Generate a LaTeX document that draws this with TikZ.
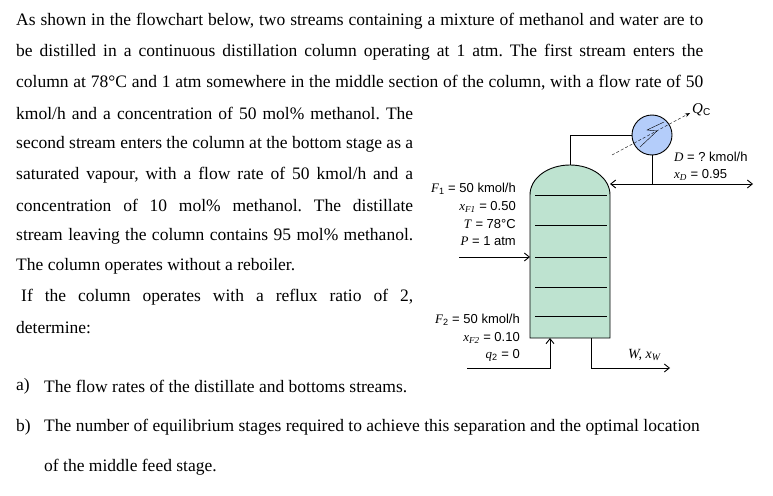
\documentclass[tikz,border=0pt]{standalone}
\usepackage{fontspec}
\usetikzlibrary{arrows.meta}
\setmainfont{Liberation Serif}
\setsansfont{Liberation Sans}
\newfontfamily\lsans{Liberation Sans}
\newcommand\jl[2]{\hbox to #1{#2}}
\frenchspacing
\begin{document}
\begin{tikzpicture}[x=1pt,y=-1pt,
  para/.style={anchor=west,inner sep=0pt,font=\frenchspacing\fontsize{17.5}{20}\selectfont},
  lab/.style={inner sep=0pt,font=\lsans\fontsize{13}{15}\selectfont},
  ln/.style={line width=0.9pt},
  arr/.style={ln,-{Straight Barb[length=5pt,width=8pt]}}]
\useasboundingbox (0,0) rectangle (773,495);
\fill[white] (0,0) rectangle (773,495);
% text
\node[para] (t1) at (16,21) {\jl{687pt}{As shown in the flowchart below, two streams containing a mixture of methanol and water are to}};
\node[para] (t2) at (16,52) {\jl{687pt}{be distilled in a continuous distillation column operating at 1 atm. The first stream enters the}};
\node[para] (t3) at (16,83) {\jl{687pt}{column at 78°C and 1 atm somewhere in the middle section of the column, with a flow rate of 50}};
\node[para] (t4) at (16,113) {\jl{397pt}{kmol/h and a concentration of 50 mol\% methanol. The}};
\node[para] (t5) at (16,144) {\jl{397pt}{second stream enters the column at the bottom stage as a}};
\node[para] (t6) at (16,175) {\jl{397pt}{saturated vapour, with a flow rate of 50 kmol/h and a}};
\node[para] (t7) at (16,205) {\jl{397pt}{concentration of 10 mol\% methanol. The distillate}};
\node[para] (t8) at (16,236) {\jl{397pt}{stream leaving the column contains 95 mol\% methanol.}};
\node[para] (t9) at (16,266) {The column operates without a reboiler.};
\node[para] (t10) at (21,297) {\jl{392pt}{If the column operates with a reflux ratio of 2,}};
\node[para] (t11) at (16,328) {determine:};
\node[para] (a) at (16,386) {a)};
\node[para] (at) at (44,386) {The flow rates of the distillate and bottoms streams.};
\node[para] (b) at (16,427) {b)};
\node[para] (bt) at (44,427) {The number of equilibrium stages required to achieve this separation and the optimal location};
\node[para] (bt2) at (44,467) {of the middle feed stage.};
% column
\path[fill={rgb,255:red,190;green,227;blue,208},draw=black,line width=0.9pt]
  (530,338) -- (530,195) .. controls (530,178) and (548,165) .. (570,165)
  .. controls (592,165) and (610,178) .. (610,195) -- (610,338) -- cycle;
\coordinate (ctop) at (570,165);
\foreach \y in {195,225,257,287,316} \draw[ln] (535,\y) -- (607,\y);
% condenser
\node[circle,draw,ln,fill={rgb,255:red,180;green,205;blue,250},minimum size=40pt,inner sep=0pt] (cond) at (652,135) {};
\draw[ln] (ctop) -- (570,135) -- (cond.west);
\draw[densely dashed,-{Stealth[length=5pt]}] (612,155) -- (690,113);
\draw (640,147) -- (657,131) -- (647,130) -- (664,122);
\node[lab,anchor=west,font=\rmfamily\itshape\fontsize{15}{15}\selectfont] (qc) at (692,110) {Q\textsubscript{\lsans\upshape\fontsize{10}{10}\selectfont C}};
\coordinate (rj) at (652,184);
\coordinate (dout) at (753,184);
\coordinate (cin) at (610,184);
\draw[ln] (cond.south) -- (rj);
\draw[arr] (rj) -- (dout);
\draw[arr] (rj) -- (cin);
\node[lab,anchor=west] (dl) at (674,157) {\textit{\rmfamily D} = ? kmol/h};
\node[lab,anchor=west] (xd) at (674,175) {\textit{\rmfamily x\textsubscript{D}} = 0.95};
% F1
\coordinate (f1s) at (459,257);
\draw[arr] (f1s) -- (530,257);
\node[lab,anchor=east] (f1a) at (516,189) {\textit{\rmfamily F}\textsubscript{1} = 50 kmol/h};
\node[lab,anchor=east] (f1b) at (516,207) {\textit{\rmfamily x\textsubscript{F1}} = 0.50};
\node[lab,anchor=east] (f1c) at (516,224) {\textit{\rmfamily T} = 78°C};
\node[lab,anchor=east] (f1d) at (516,241) {\textit{\rmfamily P} = 1 atm};
% F2
\coordinate (f2s) at (467,368);
\draw[arr] (f2s) -- (550,368) -- (550,338);
\node[lab,anchor=east] (f2a) at (520,320) {\textit{\rmfamily F}\textsubscript{2} = 50 kmol/h};
\node[lab,anchor=east] (f2b) at (520,338) {\textit{\rmfamily x\textsubscript{F2}} = 0.10};
\node[lab,anchor=east] (f2c) at (520,355) {\textit{\rmfamily q}\textsubscript{2} = 0};
% bottoms
\coordinate (wout) at (670,368);
\draw[arr] (591,338) -- (591,368) -- (wout);
\node[lab,anchor=west,font=\rmfamily\itshape\fontsize{14}{14}\selectfont] (w) at (628,355) {W, x\textsubscript{W}};
\end{tikzpicture}
\end{document}
